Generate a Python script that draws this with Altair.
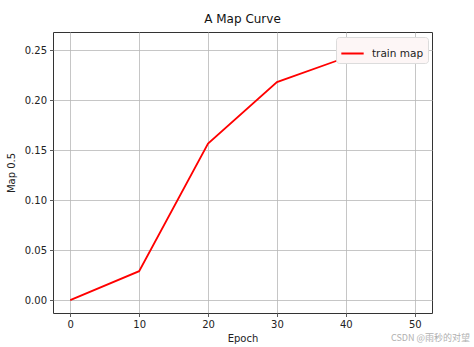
import altair as alt
import pandas as pd

epochs = [0, 10, 20, 30, 40, 50]
map_values = [0.0, 0.029, 0.1565, 0.218, 0.2425, 0.255]
series_name = "train map"
x_ticks = [0, 10, 20, 30, 40, 50]
y_ticks = [0.0, 0.05, 0.10, 0.15, 0.20, 0.25]

df = pd.DataFrame({"Epoch": epochs, "Map": map_values, "series": [series_name] * len(epochs)})

FONT = "DejaVu Sans"

line = alt.Chart(df).mark_line(strokeWidth=1.8, clip=True).encode(
    x=alt.X("Epoch:Q",
            scale=alt.Scale(domain=[-2.5, 52.5], nice=False, zero=False),
            axis=alt.Axis(values=x_ticks, title="Epoch", format="d")),
    y=alt.Y("Map:Q",
            scale=alt.Scale(domain=[-0.0128, 0.268], nice=False, zero=False),
            axis=alt.Axis(values=y_ticks, title="Map 0.5", format=".2f")),
    color=alt.Color("series:N",
                    scale=alt.Scale(domain=[series_name], range=["#ff0000"]),
                    legend=alt.Legend(title=None, orient="none", legendX=283, legendY=5,
                                      symbolType="stroke", symbolStrokeWidth=2,
                                      symbolSize=500, labelFontSize=10.5, labelFont=FONT,
                                      labelColor="#222", fillColor="#fdf6f6",
                                      strokeColor="#dcdcdc", padding=4, cornerRadius=3,
                                      labelOffset=7, zindex=2)),
)

watermark = alt.Chart(pd.DataFrame({"t": ["CSDN @雨秒的对望"]})).mark_text(
    align="right", baseline="middle", fontSize=9, color="#b0b0b0",
    font="Noto Sans CJK SC").encode(
    text="t:N", x=alt.value(417), y=alt.value(306))

chart = alt.layer(line, watermark).properties(
    width=379, height=281,
    title=alt.TitleParams("A Map Curve", fontSize=12, font=FONT, fontWeight="normal",
                          color="#111", offset=6),
    autosize=alt.AutoSizeParams(type="none"),
    padding={"left": 53, "top": 32, "right": 42, "bottom": 34},
).configure_view(stroke="#333", strokeWidth=1).configure_axis(
    grid=True, gridColor="#b8b8b8", gridWidth=0.8, domain=False,
    tickColor="#333", tickSize=3.5, tickWidth=0.8,
    labelFont=FONT, labelFontSize=10, labelColor="#222", labelPadding=3,
    titleFont=FONT, titleFontSize=10, titleColor="#222", titleFontWeight="normal",
).configure_axisX(titlePadding=4).configure_axisY(titlePadding=8)

chart.save("out.html", embed_options={"renderer": "svg", "actions": False})
